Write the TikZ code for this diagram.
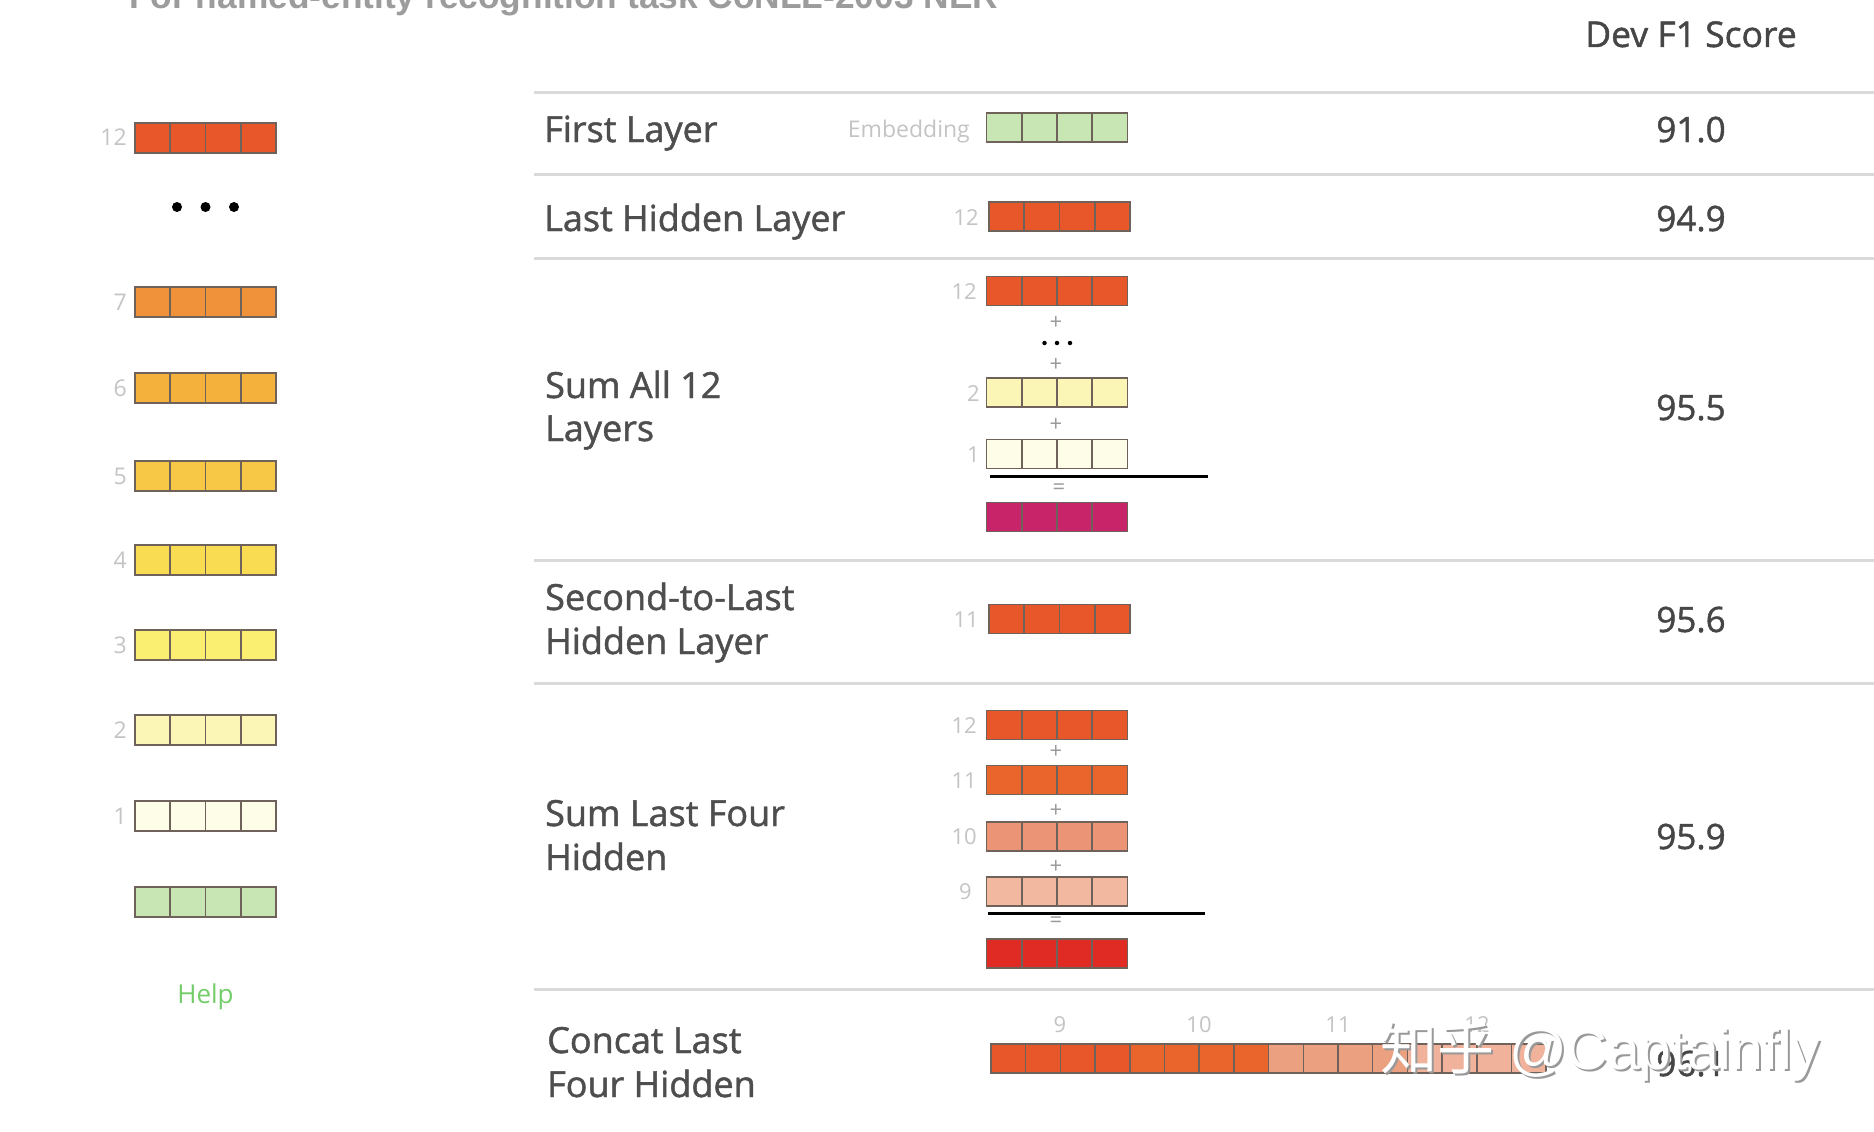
\documentclass[tikz,border=0pt]{standalone}
\usepackage{fontspec}
\setmainfont{Open Sans}
\newfontfamily\osmed{Open Sans}[FakeBold=1.3]
\newfontfamily\arialf{Liberation Sans}
\newfontfamily\cjkf{Noto Sans CJK SC}
\usetikzlibrary{calc}
\definecolor{cellline}{HTML}{6E625A}
\definecolor{linegray}{HTML}{DADADA}
\definecolor{labelgray}{HTML}{4E4E4E}
\definecolor{scoregray}{HTML}{464646}
\definecolor{idxgray}{HTML}{C4C4C4}
\definecolor{opgray}{HTML}{9A9A9A}
\definecolor{titlegray}{HTML}{9C9C9C}
\definecolor{helpgreen}{HTML}{74CC6A}
\definecolor{cA}{HTML}{E8572A}
\definecolor{cB}{HTML}{EA652C}
\definecolor{c7}{HTML}{F0923A}
\definecolor{c6}{HTML}{F4B23C}
\definecolor{c5}{HTML}{F7C845}
\definecolor{c4}{HTML}{F9DC52}
\definecolor{c3}{HTML}{FBEF72}
\definecolor{c2}{HTML}{FCF6B6}
\definecolor{c1}{HTML}{FDFDE8}
\definecolor{cemb}{HTML}{C8E6B4}
\definecolor{cmag}{HTML}{C8246A}
\definecolor{cred}{HTML}{E02A24}
\definecolor{c10}{HTML}{EC9476}
\definecolor{c9}{HTML}{F2B8A0}
\definecolor{ccA}{HTML}{EBA080}
\definecolor{ccB}{HTML}{F0B29A}
\tikzset{
  bar/.style={draw=cellline, line width=1.6pt, fill=#1, minimum width=141pt,
    minimum height=29pt, inner sep=0pt,
    path picture={\foreach \k in {1,2,3}{\draw[cellline,line width=1.6pt]
      ($(path picture bounding box.south west)!\k/4!(path picture bounding box.south east)$) --
      ($(path picture bounding box.north west)!\k/4!(path picture bounding box.north east)$);}}},
  lbar/.style={bar=#1, minimum height=30pt},
  cell/.style={draw=cellline, line width=1.5pt, fill=#1, minimum width=34.7pt,
    minimum height=29pt, inner sep=0pt},
  rowlabel/.style={anchor=base west, text=labelgray, font=\osmed\fontsize{36}{44}\selectfont, inner sep=0pt},
  score/.style={anchor=base, text=scoregray, font=\osmed\fontsize{35}{42}\selectfont, inner sep=0pt},
  idx/.style={anchor=base east, text=idxgray, font=\fontsize{22}{26}\selectfont, inner sep=0pt},
  lidx/.style={anchor=east, text=idxgray, font=\fontsize{23}{26}\selectfont, inner sep=0pt},
  op/.style={text=opgray, font=\fontsize{22}{24}\selectfont, inner sep=0pt},
  rowline/.style={draw=linegray, line width=3pt},
  sumline/.style={draw=black, line width=3pt},
  bigdot/.style={circle, fill=black, minimum size=10pt, inner sep=0pt},
  smalldot/.style={circle, fill=black, minimum size=4.5pt, inner sep=0pt},
}
\begin{document}
\begin{tikzpicture}[x=1pt,y=-1pt]
\useasboundingbox (0,0) rectangle (1874,1132);
\clip (0,0) rectangle (1874,1132);
\fill[white] (0,0) rectangle (1874,1132);

% title (cropped at top)
\node[anchor=base west, inner sep=0pt, text=titlegray, font=\arialf\bfseries\fontsize{35.3}{40}\selectfont] (title) at (129,9)
  {For named-entity recognition task CoNLL-2003 NER};
\node[anchor=base, inner sep=0pt, text=scoregray, font=\osmed\fontsize{35.5}{40}\selectfont] (dev) at (1691,47) {Dev F1 Score};

% left column
\node[lbar=cA] (L12) at (205.5,138) {};
\node[lidx] (l12) at (127,137) {12};
\node[bigdot] (d1) at (177,207) {};
\node[bigdot] (d2) at (205.5,207) {};
\node[bigdot] (d3) at (234,207) {};
\node[lbar=c7] (L7) at (205.5,302) {};
\node[lidx] (l7) at (127,302) {7};
\node[lbar=c6] (L6) at (205.5,388) {};
\node[lidx] (l6) at (127,388) {6};
\node[lbar=c5] (L5) at (205.5,476) {};
\node[lidx] (l5) at (127,476) {5};
\node[lbar=c4] (L4) at (205.5,560) {};
\node[lidx] (l4) at (127,560) {4};
\node[lbar=c3] (L3) at (205.5,645) {};
\node[lidx] (l3) at (127,645) {3};
\node[lbar=c2] (L2) at (205.5,730) {};
\node[lidx] (l2) at (127,730) {2};
\node[lbar=c1] (L1) at (205.5,816) {};
\node[lidx] (l1) at (127,816) {1};
\node[lbar=cemb] (LE) at (205.5,902) {};
\node[inner sep=0pt, text=helpgreen, font=\fontsize{26}{30}\selectfont] (help) at (205.5,997) {Help};

% row separators
\coordinate (r0a) at (534,92);    \coordinate (r0b) at (1874,92);
\coordinate (r1a) at (534,174.5); \coordinate (r1b) at (1874,174.5);
\coordinate (r2a) at (534,258);   \coordinate (r2b) at (1874,258);
\coordinate (r3a) at (534,560.5); \coordinate (r3b) at (1874,560.5);
\coordinate (r4a) at (534,683.5); \coordinate (r4b) at (1874,683.5);
\coordinate (r5a) at (534,989.5); \coordinate (r5b) at (1874,989.5);
\foreach \r in {0,...,5}{\draw[rowline] (r\r a) -- (r\r b);}

% row 1
\node[rowlabel] (t1) at (544,142) {First Layer};
\node[bar=cemb] (E1) at (1057,127.5) {};
\node[anchor=base east, inner sep=0pt, text=idxgray, font=\fontsize{23}{26}\selectfont] (emb) at (970,137) {Embedding};
\node[score] (s1) at (1691,142) {91.0};

% row 2
\node[rowlabel] (t2) at (544,231) {Last Hidden Layer};
\node[bar=cA] (B2) at (1059.5,216.5) {};
\node[idx] (i2) at (979,225) {12};
\node[score] (s2) at (1691,231) {94.9};

% row 3
\node[rowlabel] (t3a) at (545,398) {Sum All 12};
\node[rowlabel] (t3b) at (545,441) {Layers};
\node[bar=cA] (B3a) at (1057,291) {};
\node[idx] (i3a) at (977,299) {12};
\node[op] (p3a) at (1056,323) {+};
\node[smalldot] (e1) at (1044.5,343) {};
\node[smalldot] (e2) at (1057,343) {};
\node[smalldot] (e3) at (1070,343) {};
\node[op] (p3b) at (1056,365) {+};
\node[bar=c2] (B3b) at (1057,392.5) {};
\node[idx] (i3b) at (980,401) {2};
\node[op] (p3c) at (1056,425) {+};
\node[bar=c1] (B3c) at (1057,454) {};
\node[idx] (i3c) at (980,462) {1};
\coordinate (m3a) at (990,476);
\coordinate (m3b) at (1208,476);
\draw[sumline] (m3a) -- (m3b);
\node[op] (q3) at (1059,489) {=};
\node[bar=cmag] (B3d) at (1057,517) {};
\node[score] (s3) at (1691,420) {95.5};

% row 4
\node[rowlabel] (t4a) at (545,610) {Second-to-Last};
\node[rowlabel] (t4b) at (545,654) {Hidden Layer};
\node[bar=cA] (B4) at (1059.5,619) {};
\node[idx] (i4) at (979,627) {11};
\node[score] (s4) at (1691,632) {95.6};

% row 5
\node[rowlabel] (t5a) at (545,826) {Sum Last Four};
\node[rowlabel] (t5b) at (545,870) {Hidden};
\node[bar=cA] (B5a) at (1057,725) {};
\node[idx] (i5a) at (977,733) {12};
\node[op] (p5a) at (1056,752) {+};
\node[bar=cB] (B5b) at (1057,780) {};
\node[idx] (i5b) at (977,788) {11};
\node[op] (p5b) at (1056,811) {+};
\node[bar=c10] (B5c) at (1057,836.5) {};
\node[idx] (i5c) at (977,844) {10};
\node[op] (p5c) at (1056,867) {+};
\node[bar=c9] (B5d) at (1057,891.5) {};
\node[idx] (i5d) at (972,899) {9};
\coordinate (m5a) at (988,913);
\coordinate (m5b) at (1205,913);
\draw[sumline] (m5a) -- (m5b);
\node[op] (q5) at (1056,922) {=};
\node[bar=cred] (B5e) at (1057,953.5) {};
\node[score] (s5) at (1691,849) {95.9};

% row 6
\node[rowlabel] (t6a) at (547,1053) {Concat Last};
\node[rowlabel] (t6b) at (547,1097) {Four Hidden};
\foreach \k/\c in {1/cA,2/cA,3/cA,4/cA,5/cB,6/cB,7/cB,8/cB,9/ccA,10/ccA,11/ccA,12/ccA,13/ccB,14/ccB,15/ccB,16/ccB}{
  \node[cell=\c] (C\k) at ({991+34.7*(\k-0.5)},1058.5) {};
}
\node[anchor=base, inner sep=0pt, text=idxgray, font=\fontsize{22}{26}\selectfont] (g9) at (1060,1032) {9};
\node[anchor=base, inner sep=0pt, text=idxgray, font=\fontsize{22}{26}\selectfont] (g10) at (1199,1032) {10};
\node[anchor=base, inner sep=0pt, text=idxgray, font=\fontsize{22}{26}\selectfont] (g11) at (1338,1032) {11};
\node[anchor=base, inner sep=0pt, text=idxgray, font=\fontsize{22}{26}\selectfont] (g12) at (1477,1032) {12};
\node[score] (s6) at (1691,1076) {96.1};

% watermark
\node[anchor=base west, inner sep=0pt, text=black!40, font=\fontsize{57}{60}\selectfont] (wms) at (1382,1071)
  {{\cjkf 知乎} {\arialf @Captainfly}};
\node[anchor=base west, inner sep=0pt, text=white, font=\fontsize{57}{60}\selectfont] (wm) at (1380,1069)
  {{\cjkf 知乎} {\arialf @Captainfly}};
\end{tikzpicture}
\end{document}
